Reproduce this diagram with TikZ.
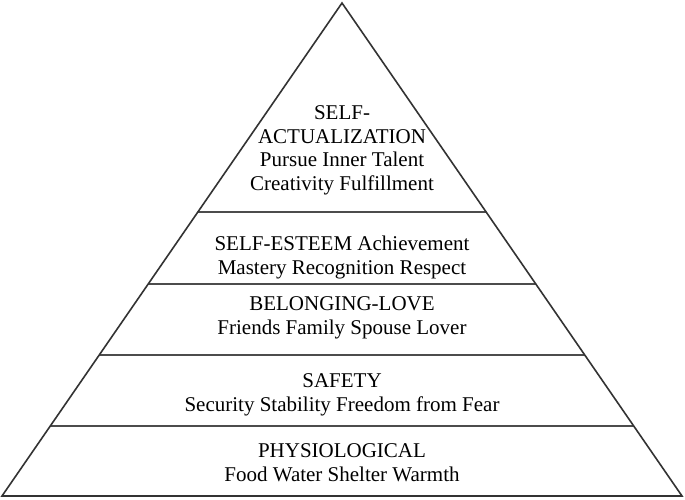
\documentclass[tikz,border=0pt]{standalone}
\usepackage{fontspec}
\setmainfont{Liberation Serif}
\usetikzlibrary{calc}
\begin{document}
\begin{tikzpicture}[x=1pt,y=-1pt,
  edge/.style={draw=black!80,line width=1.6pt,line join=miter},
  band/.style={draw=black!70,line width=1.8pt},
  lbl/.style={anchor=base,align=center,inner sep=0pt,font=\fontsize{21}{23.4}\selectfont,text=black}]
\useasboundingbox (0,0) rectangle (685,500);
\coordinate (apex) at (342,3);
\coordinate (bl) at (2,496);
\coordinate (br) at (682,496);
\foreach \t/\n in {0.4239/a,0.5700/b,0.7140/c,0.8580/d}{
  \coordinate (l\n) at ($(apex)!\t!(bl)$);
  \coordinate (r\n) at ($(apex)!\t!(br)$);
  \draw[band] (l\n) -- (r\n);
}
\draw[edge] (bl) -- (apex) -- (br) -- cycle;
\node[lbl] (t1) at (342,190) {SELF-\\ACTUALIZATION\\Pursue Inner Talent\\Creativity Fulfillment};
\node[lbl] (t2) at (342,274) {SELF-ESTEEM Achievement\\Mastery Recognition Respect};
\node[lbl] (t3) at (342,334) {BELONGING-LOVE\\Friends Family Spouse Lover};
\node[lbl] (t4) at (342,411) {SAFETY\\Security Stability Freedom from Fear};
\node[lbl] (t5) at (342,481) {PHYSIOLOGICAL\\Food Water Shelter Warmth};
\end{tikzpicture}
\end{document}
